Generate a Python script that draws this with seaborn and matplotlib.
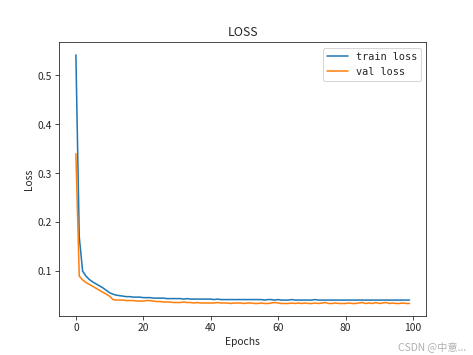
import matplotlib
matplotlib.use('Agg')
import matplotlib.pyplot as plt
import seaborn as sns
import pandas as pd

epochs = list(range(100))
train_loss = [0.542, 0.170, 0.100, 0.090, 0.083, 0.078, 0.074, 0.070, 0.066, 0.061,
              0.056, 0.053, 0.051, 0.050, 0.049, 0.048, 0.048, 0.047, 0.047, 0.047,
              0.046, 0.046, 0.046, 0.045, 0.045, 0.045, 0.045, 0.044, 0.044, 0.044,
              0.044, 0.044, 0.043, 0.044, 0.043, 0.043, 0.043, 0.043, 0.043, 0.043,
              0.043, 0.042, 0.043, 0.042, 0.042, 0.042, 0.042, 0.042, 0.042, 0.042,
              0.042, 0.042, 0.042, 0.042, 0.042, 0.042, 0.041, 0.042, 0.042, 0.041,
              0.042, 0.041, 0.041, 0.041, 0.042, 0.041, 0.041, 0.041, 0.041, 0.041,
              0.041, 0.042, 0.041, 0.041, 0.041, 0.041, 0.041, 0.041, 0.041, 0.041,
              0.041, 0.041, 0.041, 0.041, 0.041, 0.041, 0.041, 0.041, 0.041, 0.041,
              0.041, 0.041, 0.041, 0.041, 0.041, 0.041, 0.041, 0.041, 0.041, 0.041]
val_loss = [0.340, 0.090, 0.082, 0.077, 0.073, 0.069, 0.065, 0.061, 0.057, 0.053,
            0.049, 0.042, 0.041, 0.041, 0.041, 0.040, 0.040, 0.040, 0.039, 0.039,
            0.039, 0.040, 0.040, 0.039, 0.038, 0.038, 0.037, 0.037, 0.037, 0.036,
            0.036, 0.036, 0.037, 0.036, 0.036, 0.035, 0.036, 0.035, 0.035, 0.035,
            0.035, 0.035, 0.036, 0.035, 0.035, 0.035, 0.034, 0.035, 0.035, 0.035,
            0.034, 0.035, 0.035, 0.034, 0.034, 0.035, 0.034, 0.034, 0.035, 0.036,
            0.035, 0.034, 0.034, 0.034, 0.035, 0.034, 0.035, 0.034, 0.035, 0.034,
            0.034, 0.035, 0.034, 0.035, 0.036, 0.034, 0.034, 0.035, 0.034, 0.034,
            0.034, 0.035, 0.034, 0.034, 0.035, 0.036, 0.034, 0.035, 0.034, 0.036,
            0.034, 0.035, 0.036, 0.034, 0.035, 0.034, 0.034, 0.035, 0.034, 0.034]

sns.set_style('ticks')
plt.rcParams['font.family'] = ['Noto Sans CJK SC', 'DejaVu Sans']

df = pd.DataFrame({'epoch': epochs * 2,
                   'loss': train_loss + val_loss,
                   'kind': ['train loss'] * 100 + ['val loss'] * 100})

fig = plt.figure(figsize=(6.4, 4.8), dpi=74)
ax = fig.add_subplot(111)
sns.lineplot(data=df, x='epoch', y='loss', hue='kind',
             palette=['#1f77b4', '#ff7f0e'], linewidth=1.5, ax=ax)
ax.set_title('LOSS')
ax.set_xlabel('Epochs')
ax.set_ylabel('Loss')
ax.set_yticks([0.1, 0.2, 0.3, 0.4, 0.5])
leg = ax.legend(loc='upper right', prop={'family': 'DejaVu Sans Mono'})
fig.text(0.985, 0.01, 'CSDN @中意...', ha='right', va='bottom', color='#b0b0b0', fontsize=10)
fig.savefig('out.png', dpi=74)
